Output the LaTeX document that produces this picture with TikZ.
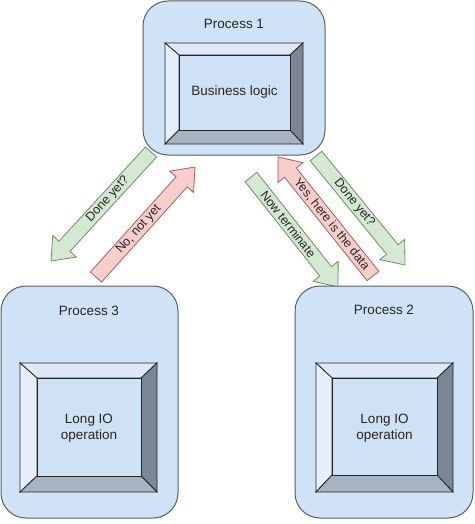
\documentclass[tikz,border=0pt]{standalone}
\usepackage{fontspec}
\setmainfont{Liberation Sans}
\usetikzlibrary{calc}
\definecolor{boxfill}{HTML}{D0E2F5}
\definecolor{boxline}{HTML}{5A5F66}
\definecolor{facetop}{HTML}{DDE9F8}
\definecolor{faceleft}{HTML}{E6EFFB}
\definecolor{faceright}{HTML}{7C8795}
\definecolor{facebottom}{HTML}{A6B3C1}
\definecolor{faceinner}{HTML}{CFE1F5}
\definecolor{gfill}{HTML}{D5E8D4}
\definecolor{gline}{HTML}{6F8F5E}
\definecolor{rfill}{HTML}{F8CECC}
\definecolor{rline}{HTML}{A8605C}
\newcommand{\bevelbox}[8]{%
  \filldraw[bevline, fill=facetop] (#1,#2) -- (#3,#2) -- (#7,#6) -- (#5,#6) -- cycle;
  \filldraw[bevline, fill=faceleft] (#1,#2) -- (#5,#6) -- (#5,#8) -- (#1,#4) -- cycle;
  \filldraw[bevline, fill=faceright] (#3,#2) -- (#3,#4) -- (#7,#8) -- (#7,#6) -- cycle;
  \filldraw[bevline, fill=facebottom] (#1,#4) -- (#5,#8) -- (#7,#8) -- (#3,#4) -- cycle;
  \filldraw[bevline, fill=faceinner] (#5,#6) rectangle (#7,#8);
}
\newcommand{\blockarrow}[4]{%
  \coordinate (#1h) at ($(#2)!20pt!(#1)$);
  \draw[#3] ($(#1)!7.5pt!90:(#2)$) -- ($(#1h)!7.5pt!90:(#2)$) -- ($(#1h)!16pt!90:(#2)$) -- (#2)
    -- ($(#1h)!16pt!-90:(#2)$) -- ($(#1h)!7.5pt!-90:(#2)$) -- ($(#1)!7.5pt!-90:(#2)$) -- cycle;
  \path (#1) -- (#1h) node[midway, sloped, lbl] (#1l) {#4};
}
\begin{document}
\begin{tikzpicture}[x=1pt, y=-1pt,
  procbox/.style={draw=boxline, fill=boxfill, line width=1pt, rounded corners=25pt, inner sep=0pt},
  bevline/.style={draw=black!85, line width=0.8pt, line join=miter},
  ptitle/.style={font=\fontsize{13.5}{16}\selectfont, text=black!85},
  ptext/.style={font=\fontsize{13.5}{16}\selectfont, text=black!85, align=center},
  lbl/.style={font=\fontsize{12.5}{15}\selectfont, text=black!85, inner sep=0pt},
  garrow/.style={draw=gline, fill=gfill, line width=0.8pt, line join=miter},
  rarrow/.style={draw=rline, fill=rfill, line width=0.8pt, line join=miter}]
\useasboundingbox (0,0) rectangle (474,524);
\fill[white] (0,0) rectangle (474,524);

% arrows
\coordinate (a1t) at (151,152); \coordinate (a1p) at (51,261);
\coordinate (a2t) at (96,277);  \coordinate (a2p) at (195,167);
\coordinate (a3t) at (251,177); \coordinate (a3p) at (338,287);
\coordinate (a4t) at (373,276); \coordinate (a4p) at (278,157);
\coordinate (a5t) at (316,156); \coordinate (a5p) at (405,265);
\blockarrow{a1t}{a1p}{garrow}{Done yet?}
\blockarrow{a2t}{a2p}{rarrow}{No, not yet}
\blockarrow{a3t}{a3p}{garrow}{Now terminate}
\blockarrow{a4t}{a4p}{rarrow}{Yes, here is the data}
\blockarrow{a5t}{a5p}{garrow}{Done yet?}

% Process 1
\node[procbox, minimum width=182pt, minimum height=154pt] (p1) at (234,78) {};
\node[ptitle] (p1t) at (234,24) {Process 1};
\bevelbox{165}{43}{303}{144}{179}{55}{290}{130}
\node[ptext] (p1b) at (234.5,92.5) {Business logic};

% Process 3
\node[procbox, minimum width=177pt, minimum height=232pt] (p3) at (89.5,402) {};
\node[ptitle] (p3t) at (89,311) {Process 3};
\bevelbox{20}{363}{157}{492}{37}{378}{141}{476}
\node[ptext] (p3b) at (89,428) {Long IO\\operation};

% Process 2
\node[procbox, minimum width=178pt, minimum height=232pt] (p2) at (384,402) {};
\node[ptitle] (p2t) at (384,310) {Process 2};
\bevelbox{316}{363}{453}{492}{332}{378}{437}{475}
\node[ptext] (p2b) at (384.5,428) {Long IO\\operation};
\end{tikzpicture}
\end{document}
